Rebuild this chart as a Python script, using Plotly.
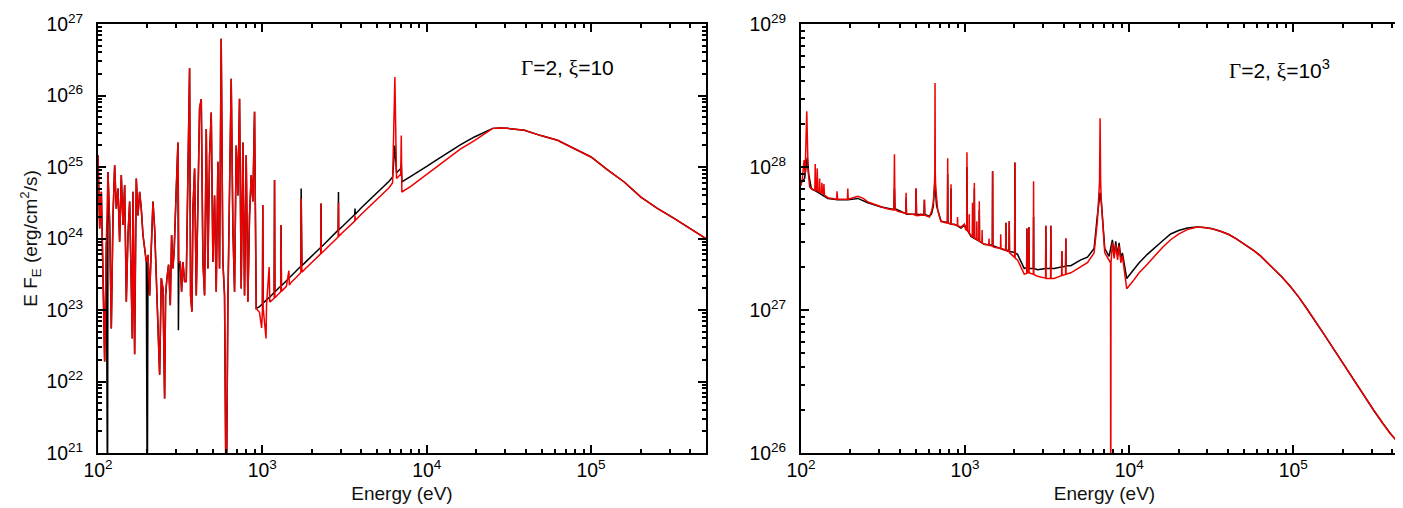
import plotly.graph_objects as go

# ---- left panel: Gamma=2, xi=10 ----
# red (second model) line forest below ~1 keV
forest_E = [100, 102.4, 104.8, 107.3, 109.8, 112.4, 115.0, 117.7, 120.5, 123.4,
            126.3, 129.2, 132.3, 135.4, 138.6, 141.9, 145.3, 148.7, 152.2, 155.8,
            161.7, 163.3, 167.1, 169.4, 171.0, 175.1, 179.2, 183.4, 187.8, 192.2,
            196.7, 201.4, 206.2, 211.0, 216.0, 221.1, 226.3, 231.6, 237.1, 242.7,
            248.4, 254.3, 257.8, 262.7, 268.9, 275.3, 280.4, 285.7, 291.1, 299.4,
            306.5, 310.8, 316.6, 322.6, 328.6, 336.4, 344.3, 352.5, 360.8, 365.9,
            372.8, 378.1, 387.0, 396.2, 405.5, 415.0, 424.9, 434.9, 445.1, 455.6,
            466.4, 477.3, 488.6, 500.1, 511.9, 524.0, 536.3, 548.9, 561.8, 575.2,
            588.8, 602.7, 617.0, 631.6, 646.4, 661.8, 677.3, 693.3, 709.7, 726.4,
            743.6, 761.3, 779.2, 797.5, 816.3, 835.6, 855.4, 875.5, 896.3, 917.4]
forest_red = [1.46e25, 1.38e24, 4.5e24, 2.5e23, 1.9e22, 9.0e23, 8.5e24, 1.7e24, 5.5e22, 2.1e24,
              1.06e25, 2.6e24, 5.0e24, 9.0e23, 7.7e24, 1.54e24, 5.6e24, 1.3e23, 1.12e24, 3.3e24,
              4.0e22, 4.5e24, 2.4e22, 1.38e24, 6.9e24, 2.1e24, 4.5e24, 2.6e24, 1.12e24, 7.3e23,
              4.7e23, 5.9e23, 1.6e23, 8.1e23, 3.3e24, 1.38e24, 3.1e23, 6.9e22, 1.24e22, 2.8e23,
              2.0e23, 5.8e21, 1.6e23, 2.8e23, 4.3e23, 1.17e23, 1.12e24, 3.8e23, 7.3e23, 5.0e24,
              2.2e25, 4.7e23, 4.7e23, 1.8e23, 4.7e23, 2.5e23, 2.5e23, 8.5e24, 2.4e26, 1.6e23,
              9.5e22, 2.6e24, 9.5e24, 1.6e23, 1.9e24, 6.6e25, 8.9e25, 4.7e23, 1.6e23, 3.4e25,
              3.8e23, 1.46e25, 5.8e25, 4.7e23, 4.0e24, 1.8e23, 1.18e25, 3.8e23, 6.2e26, 4.7e23,
              1.6e23, 1e20, 1.3e23, 3.3e24, 1.72e26, 1.38e24, 1.8e23, 2.0e25, 4.0e24, 9.0e25,
              2.0e23, 2.2e25, 1.6e23, 1.46e25, 1.3e23, 2.1e24, 7.7e24, 3.3e24, 5.9e25, 1.05e23]
# places where the black model drops below the red one in the forest
black_dip_E = [114.3, 199.5, 308.5]
black_dip_F = [1e20, 1e20, 5.2e22]

cont_black_E = [960, 1001, 1006, 1012, 1060, 1120, 1180, 1186, 1192, 1250,
                1294, 1300, 1306, 1400, 1500, 1600, 1700, 1714, 1722, 1740,
                1850, 2000, 2150, 2264, 2275, 2282, 2400, 2600, 2800, 2891,
                2905, 2912, 3100, 3400, 3647, 3665, 3672, 4000, 4500, 5000,
                5500, 5900, 6200, 6400, 6550, 6800, 6950, 7000, 7060, 8000,
                9000, 10000, 11500, 13400, 16000, 19500, 22500, 25200, 28000, 31000,
                39300, 49500, 62500, 79000, 100000, 126000, 159000, 201000, 253000, 320000,
                404000, 500000]
cont_black_F = [1.11e23, 1.22e23, 2.95e24, 1.26e23, 1.38e23, 1.55e23, 1.76e23, 6.6e24, 1.78e23, 2.0e23,
                2.17e23, 1.55e24, 2.19e23, 2.57e23, 3.0e23, 3.47e23, 3.98e23, 4.1e23, 5.0e24, 4.17e23,
                4.79e23, 5.75e23, 6.76e23, 7.5e23, 3.09e24, 7.59e23, 8.51e23, 1.02e24, 1.20e24, 1.31e24,
                4.47e24, 1.32e24, 1.51e24, 1.86e24, 2.17e24, 2.63e24, 2.19e24, 2.69e24, 3.47e24, 4.37e24,
                5.37e24, 6.31e24, 7.24e24, 2.0e25, 8.32e24, 9.12e24, 9.55e24, 1.12e25, 6.17e24, 7.41e24,
                8.71e24, 1.02e25, 1.26e25, 1.58e25, 2.04e25, 2.63e25, 3.09e25, 3.47e25, 3.5e25, 3.47e25,
                3.27e25, 2.75e25, 2.37e25, 1.82e25, 1.38e25, 9.12e24, 6.17e24, 3.80e24, 2.63e24, 1.91e24,
                1.38e24, 1.0e24]

cont_red_E = [960, 990, 1001, 1006, 1012, 1053, 1060, 1100, 1110, 1180,
              1186, 1192, 1250, 1294, 1300, 1306, 1400, 1450, 1460, 1500,
              1600, 1700, 1714, 1722, 1740, 1850, 2000, 2150, 2264, 2275,
              2282, 2400, 2600, 2800, 2891, 2905, 2912, 3100, 3400, 3647,
              3665, 3672, 4000, 4500, 5000, 5500, 5900, 6200, 6400, 6550,
              6800, 6950, 7000, 7060, 8000, 9000, 10000, 11500, 13400, 16000,
              19500, 22500, 25200, 28000, 31000, 39300, 49500, 62500, 79000, 100000,
              126000, 159000, 201000, 253000, 320000, 404000, 500000]
cont_red_F = [9.3e22, 5.6e22, 1.0e23, 2.95e24, 1.05e23, 4.0e22, 1.17e23, 4.0e23, 1.29e23, 1.46e23,
              6.6e24, 1.48e23, 1.66e23, 1.80e23, 1.55e24, 1.82e23, 2.14e23, 3.55e23, 2.24e23, 2.45e23,
              2.82e23, 3.24e23, 3.35e23, 3.63e24, 3.39e23, 3.89e23, 4.68e23, 5.5e23, 6.1e23, 3.09e24,
              6.17e23, 6.92e23, 8.32e23, 9.77e23, 1.05e24, 3.16e24, 1.07e24, 1.23e24, 1.51e24, 1.75e24,
              2.09e24, 1.78e24, 2.19e24, 2.82e24, 3.55e24, 4.37e24, 5.13e24, 6.03e24, 1.82e26, 6.92e24,
              7.59e24, 7.94e24, 2.75e25, 4.47e24, 5.37e24, 6.61e24, 7.94e24, 1.02e25, 1.32e25, 1.78e25,
              2.34e25, 2.95e25, 3.47e25, 3.5e25, 3.47e25, 3.27e25, 2.75e25, 2.37e25, 1.82e25, 1.38e25,
              9.12e24, 6.17e24, 3.80e24, 2.63e24, 1.91e24, 1.38e24, 1.0e24]

# ---- right panel: Gamma=2, xi=10^3 ----
r_black_E = [100, 101.4, 105.3, 107.5, 109.3, 111.5, 115.6, 124.0, 133.0, 146.0,
             167.9, 193.2, 222.2, 255.6, 308.1, 362.7, 368.5, 371.3, 374, 389,
             435, 437.2, 439.5, 500, 502.9, 506, 562.5, 565.2, 568, 606.2,
             625, 640, 650, 656.3, 662, 670, 681.3, 713.9, 781, 783.8,
             786.5, 818.5, 821.3, 824, 860.5, 944.7, 989.7, 1010, 1023.5, 1027,
             1030.5, 1087, 1135, 1139, 1143, 1217, 1221, 1225, 1310, 1467,
             1472, 1477, 1733, 1768, 1774, 1780, 1853, 1859, 1865, 2005,
             2012, 2019, 2089, 2294, 2373, 2381, 2390, 2440, 2448, 2456,
             2606, 2615, 2624, 2765, 3096, 3107, 3118, 3320, 3332, 3344,
             3491, 3875, 3888, 3901, 4097, 4111, 4125, 4410, 5073, 5569,
             6114, 6400, 6650, 6773, 7099, 7543, 7900, 8100, 8280, 8500,
             8680, 8900, 9091, 9661, 10500, 11500, 12900, 14200, 16000, 17900,
             20000, 22600]
r_black_F = [7.59e27, 7.94e27, 8.32e27, 1.0e28, 1.17e28, 8.91e27, 7.08e27, 6.76e27, 6.46e27, 6.03e27,
             5.89e27, 5.89e27, 6.03e27, 5.62e27, 5.25e27, 5.01e27, 5.05e27, 7.08e27, 5.1e27, 5.01e27,
             4.72e27, 6.03e27, 4.68e27, 4.68e27, 7.08e27, 4.65e27, 4.65e27, 5.89e27, 4.65e27, 4.52e27,
             4.7e27, 5.3e27, 6.6e27, 8.32e27, 6.6e27, 5.4e27, 5.01e27, 4.17e27, 4.1e27, 8.91e27,
             4.07e27, 4.0e27, 7.08e27, 3.98e27, 3.98e27, 3.74e27, 3.94e27, 3.7e27, 3.66e27, 1.0e28,
             3.63e27, 3.27e27, 3.18e27, 7.08e27, 3.16e27, 3.04e27, 5.01e27, 3.02e27, 2.88e27, 2.84e27,
             9.33e27, 2.82e27, 2.63e27, 2.64e27, 4.07e27, 2.63e27, 2.6e27, 4.17e27, 2.57e27, 2.52e27,
             1.07e28, 2.51e27, 2.45e27, 1.95e27, 1.98e27, 3.72e27, 2.0e27, 1.97e27, 3.80e27, 1.95e27,
             1.95e27, 4.47e27, 1.95e27, 1.91e27, 1.95e27, 3.89e27, 1.95e27, 1.95e27, 3.89e27, 1.95e27,
             1.95e27, 2.0e27, 2.57e27, 2.0e27, 2.02e27, 3.16e27, 2.04e27, 2.04e27, 2.24e27, 2.34e27,
             2.69e27, 4.57e27, 6.61e27, 5.62e27, 2.69e27, 2.37e27, 3.09e27, 2.40e27, 3.02e27, 2.40e27,
             2.95e27, 2.29e27, 2.51e27, 1.66e27, 1.86e27, 2.14e27, 2.45e27, 2.72e27, 3.05e27, 3.40e27,
             3.60e27, 3.74e27]

r_red_E = [100, 102, 104.5, 106, 108.5, 110.5, 113, 118, 121.5, 122.2,
           123, 125, 125.7, 126.5, 129.2, 129.9, 130.7, 133.5, 134.2, 135,
           137.3, 138, 139, 146, 165, 166, 167, 192, 193, 194,
           222, 240, 256, 274, 308, 330, 368.5, 371.3, 374, 389,
           420, 435, 437.2, 439.5, 475, 500, 502.9, 506, 538, 540,
           542, 562.5, 565.2, 568, 606.2, 625, 640, 650, 654, 656.3,
           658.5, 662, 670, 681.3, 700, 713.9, 760, 781, 783.8, 786.5,
           818.5, 821.3, 824, 860.5, 897, 900, 903, 944.7, 989.7, 1010,
           1023.5, 1027, 1030.5, 1057, 1060, 1063, 1087, 1106, 1110, 1114,
           1135, 1139, 1143, 1176, 1180, 1184, 1217, 1221, 1225, 1266,
           1270, 1274, 1310, 1395, 1400, 1405, 1467, 1472, 1477, 1507,
           1645, 1650, 1655, 1733, 1768, 1774, 1780, 1853, 1859, 1865,
           1950, 2005, 2012, 2019, 2089, 2200, 2294, 2373, 2381, 2390,
           2440, 2448, 2456, 2520, 2606, 2615, 2624, 2765, 2900, 3096,
           3107, 3118, 3320, 3332, 3344, 3491, 3700, 3875, 3888, 3901,
           4097, 4111, 4125, 4410, 5073, 5569, 6114, 6400, 6600, 6650,
           6700, 6773, 7099, 7543, 7700, 7722, 7750, 7900, 8100, 8280,
           8500, 8680, 8900, 9091, 9661, 10500, 11500, 12900, 14200, 16000,
           17900, 20000, 22600]
r_red_F = [7.41e27, 8.32e27, 1.12e28, 8.91e27, 2.45e28, 9.55e27, 7.24e27, 6.92e27, 6.9e27, 1.05e28,
           6.9e27, 6.85e27, 9.77e27, 6.8e27, 6.7e27, 8.32e27, 6.65e27, 6.6e27, 7.76e27, 6.5e27,
           6.45e27, 7.59e27, 6.35e27, 6.1e27, 5.95e27, 6.76e27, 5.95e27, 5.95e27, 7.08e27, 5.95e27,
           6.24e27, 6.03e27, 5.69e27, 5.55e27, 5.25e27, 5.13e27, 5.0e27, 1.23e28, 5.05e27, 4.90e27,
           4.79e27, 4.75e27, 6.61e27, 4.7e27, 4.68e27, 4.6e27, 7.08e27, 4.57e27, 4.6e27, 4.73e27,
           4.6e27, 4.6e27, 5.89e27, 4.6e27, 4.47e27, 4.9e27, 5.6e27, 7.0e27, 9.0e27, 3.86e28,
           9.0e27, 7.2e27, 5.75e27, 5.01e27, 4.47e27, 4.17e27, 4.07e27, 4.05e27, 1.15e28, 4.05e27,
           4.0e27, 7.59e27, 3.98e27, 3.94e27, 3.9e27, 4.47e27, 3.88e27, 3.80e27, 3.98e27, 3.63e27,
           3.62e27, 1.27e28, 3.6e27, 3.5e27, 4.68e27, 3.45e27, 3.31e27, 3.27e27, 5.62e27, 3.25e27,
           3.2e27, 7.73e27, 3.18e27, 3.12e27, 4.17e27, 3.1e27, 3.04e27, 5.75e27, 3.02e27, 2.96e27,
           3.63e27, 2.94e27, 2.88e27, 2.84e27, 3.16e27, 2.83e27, 2.8e27, 9.33e27, 2.78e27, 2.75e27,
           2.7e27, 3.39e27, 2.69e27, 2.65e27, 2.62e27, 4.07e27, 2.6e27, 2.55e27, 4.17e27, 2.52e27,
           2.40e27, 2.33e27, 1.08e28, 2.3e27, 2.24e27, 2.0e27, 1.78e27, 1.8e27, 3.72e27, 1.82e27,
           1.82e27, 3.80e27, 1.82e27, 1.8e27, 1.78e27, 7.94e27, 1.77e27, 1.72e27, 1.70e27, 1.67e27,
           3.89e27, 1.66e27, 1.66e27, 3.89e27, 1.66e27, 1.66e27, 1.70e27, 1.74e27, 2.57e27, 1.74e27,
           1.77e27, 3.16e27, 1.78e27, 1.82e27, 2.0e27, 2.14e27, 2.51e27, 4.17e27, 7.94e27, 2.19e28,
           7.94e27, 5.62e27, 2.51e27, 2.24e27, 2.14e27, 1e25, 2.14e27, 2.95e27, 2.29e27, 2.88e27,
           2.24e27, 2.82e27, 2.14e27, 2.40e27, 1.41e27, 1.58e27, 1.82e27, 2.09e27, 2.38e27, 2.75e27,
           3.10e27, 3.39e27, 3.65e27]

# high-energy hump, identical for both models on the right
hump_E = [26000, 28600, 32100, 36000, 40500, 45000, 51200, 57500, 63100, 69300,
          76000, 85000, 96000, 108000, 121000, 136000, 153000, 172000, 194000, 217000,
          244000, 275000, 309000, 350000, 390000, 440000, 500000]
hump_F = [3.80e27, 3.78e27, 3.70e27, 3.55e27, 3.37e27, 3.14e27, 2.86e27, 2.60e27, 2.39e27, 2.16e27,
          1.95e27, 1.71e27, 1.46e27, 1.23e27, 1.02e27, 8.41e26, 6.84e26, 5.56e26, 4.49e26, 3.67e26,
          2.99e26, 2.43e26, 1.99e26, 1.62e26, 1.37e26, 1.17e26, 1.02e26]

# full curves
left_red_E = forest_E + cont_red_E
left_red_F = forest_red + cont_red_F
merged = sorted(zip(forest_E + black_dip_E, forest_red + black_dip_F))
left_black_E = [p[0] for p in merged] + cont_black_E
left_black_F = [p[1] for p in merged] + cont_black_F

BLACK = "#000000"
RED = "#ee0000"
FONT = "Liberation Sans, Arial, Helvetica, sans-serif"
LW = 1.5

fig = go.Figure()
fig.add_trace(go.Scatter(x=left_black_E, y=left_black_F, mode="lines",
                         line=dict(color=BLACK, width=LW), xaxis="x", yaxis="y"))
fig.add_trace(go.Scatter(x=left_red_E, y=left_red_F, mode="lines",
                         line=dict(color=RED, width=LW), xaxis="x", yaxis="y"))
fig.add_trace(go.Scatter(x=r_black_E + hump_E, y=r_black_F + hump_F, mode="lines",
                         line=dict(color=BLACK, width=LW), xaxis="x2", yaxis="y2"))
fig.add_trace(go.Scatter(x=r_red_E + hump_E, y=r_red_F + hump_F, mode="lines",
                         line=dict(color=RED, width=LW), xaxis="x2", yaxis="y2"))


def axis(**kw):
    d = dict(type="log", dtick=1, exponentformat="power", showline=True,
             linecolor="black", linewidth=1.5, mirror="ticks", ticks="inside",
             ticklen=8, tickwidth=1.5, tickcolor="black", showgrid=False, zeroline=False,
             automargin=False,
             tickfont=dict(family=FONT, size=15.5, color="black"),
             minor=dict(ticks="inside", ticklen=4, tickcolor="black", showgrid=False))
    d.update(kw)
    return d


xtitle = dict(text="Energy (eV)", font=dict(family=FONT, size=19, color="#111"), standoff=6)
GREEK = "<span style='font-family:Liberation Serif'>%s</span>"

fig.update_layout(
    width=1403, height=508,
    margin=dict(l=90, r=3, t=16, b=63),
    paper_bgcolor="white", plot_bgcolor="white",
    showlegend=False,
    xaxis=axis(domain=[0, 0.4641], range=[2, 5.699], title=xtitle, anchor="y"),
    yaxis=axis(domain=[0, 1], range=[21, 27], anchor="x", ticklabelstandoff=10,
               title=dict(text="E F<sub>E</sub> (erg/cm<sup>2</sup>/s)",
                          font=dict(family=FONT, size=19, color="#111"), standoff=4)),
    xaxis2=axis(domain=[0.5366, 1], range=[2, 5.699], title=xtitle, anchor="y2"),
    yaxis2=axis(domain=[0, 1], range=[26, 29], anchor="x2", ticklabelstandoff=10),
    annotations=[
        dict(text=GREEK % "Γ" + "=2, " + GREEK % "ξ" + "=10",
             xref="x domain", yref="y domain", x=0.773, y=0.897, showarrow=False,
             xanchor="center", yanchor="middle",
             font=dict(family=FONT, size=21, color="black")),
        dict(text=GREEK % "Γ" + "=2, " + GREEK % "ξ" + "=10<sup>3</sup>",
             xref="x2 domain", yref="y2 domain", x=0.789, y=0.895, showarrow=False,
             xanchor="center", yanchor="middle",
             font=dict(family=FONT, size=21, color="black")),
    ],
)

fig.write_html("out.html")
